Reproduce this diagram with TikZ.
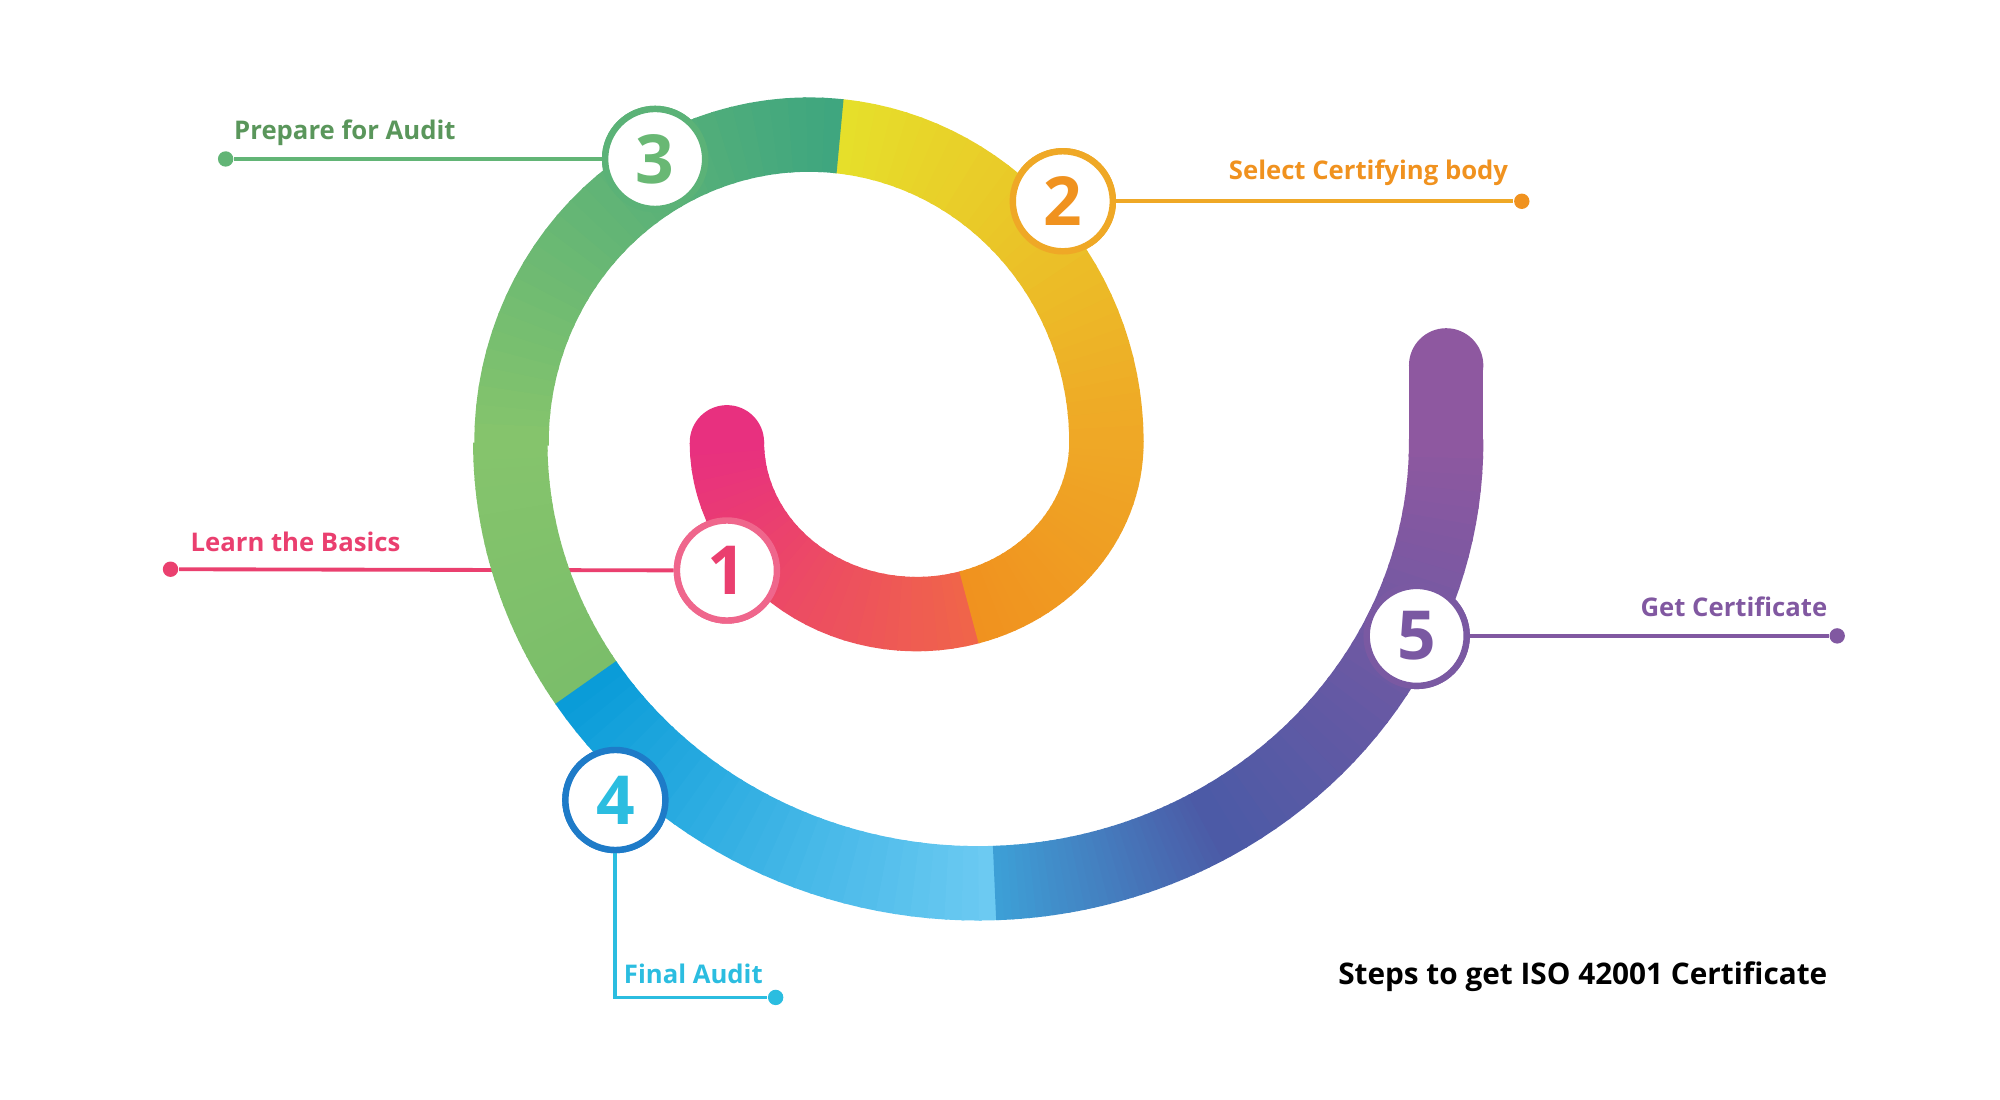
\documentclass[tikz,border=0pt]{standalone}
\usepackage{fontspec}
\setmainfont{Open Sans}
\usetikzlibrary{positioning}
\definecolor{cpink}{HTML}{E8307F}
\definecolor{cred}{HTML}{F0644A}
\definecolor{corange}{HTML}{F0921F}
\definecolor{cyelo}{HTML}{EFA826}
\definecolor{cyel}{HTML}{E6DF2A}
\definecolor{cteal}{HTML}{3FA67F}
\definecolor{cgreen}{HTML}{85C46C}
\definecolor{cgreenb}{HTML}{7BBE6A}
\definecolor{cblue}{HTML}{0A9CD8}
\definecolor{clblue}{HTML}{6CCAF2}
\definecolor{cpblue}{HTML}{3D9FD6}
\definecolor{cindigo}{HTML}{4C5AA6}
\definecolor{cpurple}{HTML}{8E58A0}
\definecolor{ccyan}{HTML}{2BBDE0}
\definecolor{cring}{HTML}{1E7BC8}
% draws one stretch of the band in small pieces
\newcommand{\bandseg}[8]{%
  \foreach \i in {0,...,29}{%
    \pgfmathsetmacro{\ta}{#5+(#6-#5)*\i/30}
    \pgfmathsetmacro{\tb}{#5+(#6-#5)*(\i+1.2)/30}
    \pgfmathtruncatemacro{\p}{100*\i/29}
    \draw[band, draw=#8!\p!#7] plot[domain=\ta:\tb, samples=4] ({#1+#3*cos(\x)},{#2+#4*sin(\x)});
  }}
\tikzset{
  band/.style={line width=0.58cm, line cap=butt},
  badge/.style={circle, draw=#1, fill=white, line width=0.05cm, minimum size=0.78cm, inner sep=0,
    font=\bfseries\fontsize{15}{15}\selectfont},
  lead/.style={draw=#1, line width=0.03cm},
  dot/.style={circle, fill=#1, inner sep=0, minimum size=0.12cm},
  lbl/.style={text=#1, font=\bfseries\fontsize{5.7}{7}\selectfont, inner sep=0}
}
\begin{document}
\begin{tikzpicture}[x=0.01cm, y=-0.01cm]
\useasboundingbox (0,0) rectangle (1560,858);

% leaders and end dots
\node[dot=cpink!70!cred] (d1) at (133,444) {};
\node[dot=corange] (d2) at (1187,157) {};
\node[dot=cteal!50!cgreen] (d3) at (176,124) {};
\node[dot=ccyan] (d4) at (605,778) {};
\node[dot=cpurple!80!cindigo] (d5) at (1433,496) {};
\coordinate (k4) at (480,778);

\node[badge=cpink!70!cred!80!white, text=cpink!70!cred] (b1) at (567,445) {1};
\node[badge=cyelo, text=corange] (b2) at (829,157) {2};
\node[badge=cteal!60!cgreen, text=cteal!40!cgreen] (b3) at (511,124) {3};
\node[badge=cring, text=ccyan] (b4) at (480,624) {4};
\node[badge=cpurple!70!cindigo, text=cpurple!70!cindigo] (b5) at (1105,496) {5};

\draw[lead=cpink!70!cred] (b1) -- (d1);
\draw[lead=cyelo] (b2) -- (d2);
\draw[lead=cteal!50!cgreen] (b3) -- (d3);
\draw[lead=ccyan] (b4) -- (k4) -- (d4);
\draw[lead=cpurple!80!cindigo] (b5) -- (d5);

% the spiral band
\fill[cpink] (567,345) circle (29);
\bandseg{715}{345}{148}{134}{180}{74}{cpink}{cred}
\bandseg{715}{345}{148}{134}{74}{0}{corange}{cyelo}
\bandseg{631}{345}{232}{240}{0}{-84}{cyelo}{cyel}
\bandseg{631}{345}{232}{240}{-84}{-180}{cteal}{cgreen}
\bandseg{763}{345}{365}{344}{180}{147}{cgreen}{cgreenb}
\bandseg{763}{345}{365}{344}{147}{88}{cblue}{clblue}
\bandseg{763}{345}{365}{344}{88}{60}{cpblue}{cindigo}
\bandseg{763}{345}{365}{344}{60}{0}{cindigo}{cpurple}
\draw[band, draw=cpurple] (1128,346) -- (1128,285);
\fill[cpurple] (1128,285) circle (29);

% badges on top
\node[badge=cpink!70!cred!80!white, text=cpink!70!cred] at (b1) {1};
\node[badge=cyelo, text=corange] at (b2) {2};
\node[badge=cteal!60!cgreen, text=cteal!40!cgreen] at (b3) {3};
\node[badge=cring, text=ccyan] at (b4) {4};
\node[badge=cpurple!70!cindigo, text=cpurple!70!cindigo] at (b5) {5};

% labels
\node[lbl=cpink!70!cred, anchor=base west] (t1) at (148,430) {Learn the Basics};
\node[lbl=corange, anchor=base east] (t2) at (1177,140) {Select Certifying body};
\node[lbl=cteal!30!cgreen!80!black, anchor=base west] (t3) at (182,109) {Prepare for Audit};
\node[lbl=ccyan, anchor=base west] (t4) at (486,767) {Final Audit};
\node[lbl=cpurple!80!cindigo, anchor=base east] (t5) at (1426,481) {Get Certificate};
\node[lbl=black, font=\bfseries\fontsize{6.6}{8}\selectfont, anchor=base east] (tt) at (1426,768) {Steps to get ISO 42001 Certificate};
\end{tikzpicture}
\end{document}
